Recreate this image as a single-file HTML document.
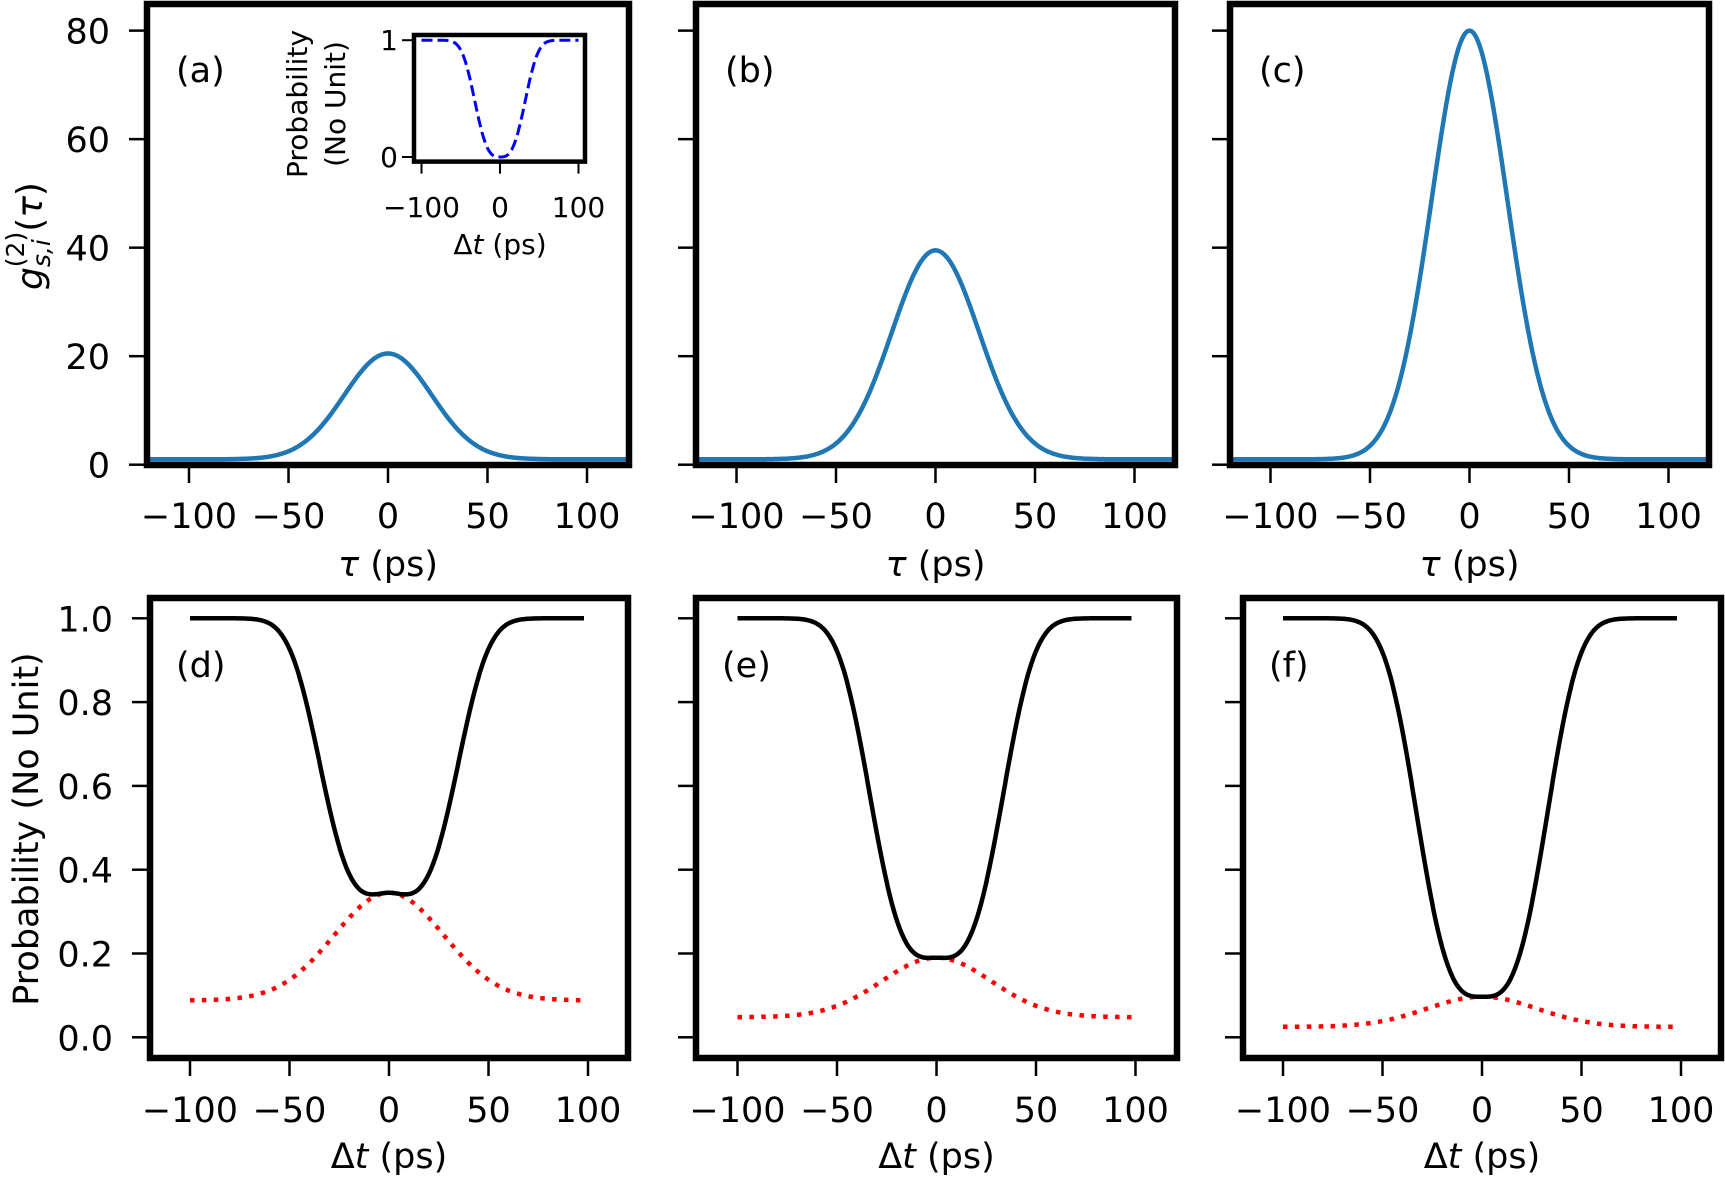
<!DOCTYPE html>
<html><head><meta charset="utf-8">
<style>
html,body{margin:0;padding:0;background:#fff;}
svg{display:block;font-family:"DejaVu Sans","Liberation Sans",sans-serif;}
</style></head>
<body>
<svg id="s" xmlns="http://www.w3.org/2000/svg" width="1725" height="1180" viewBox="0 0 1725 1180"></svg>
<script>
(function(){
const S=document.getElementById('s');let h='';
const K=1.99;
function path(pts,attrs){let d='M'+pts.map(p=>p[0].toFixed(1)+','+p[1].toFixed(1)).join('L');h+='<path d="'+d+'" fill="none" '+attrs+'/>';}
function txt(x,y,s,extra){h+='<text x="'+x+'" y="'+y+'" '+(extra||'')+'>'+s+'</text>';}
function hole(t){return 1-Math.exp(-Math.pow(Math.abs(t)/37,3.0));}
const topRow=[{l:147,r:629,A:19.5,s:22,lab:'(a)'},{l:696,r:1175,A:38.5,s:22,lab:'(b)'},{l:1230,r:1709,A:79,s:19,lab:'(c)'}];
const yT=v=>464.7-5.426*v;
topRow.forEach((p,i)=>{
 const c=(p.l+p.r)/2;
 let pts=[];for(let x=p.l;x<=p.r;x+=1){const t=(x-c)/K;pts.push([x,yT(1+p.A*Math.exp(-t*t/(2*p.s*p.s)))]);}
 path(pts,'stroke="#1f77b4" stroke-width="4.5" stroke-linejoin="round"');
 h+='<rect x="'+p.l+'" y="4" width="'+(p.r-p.l)+'" height="461" fill="none" stroke="#000" stroke-width="6.5"/>';
 [-100,-50,0,50,100].forEach(v=>{const x=c+v*K;h+='<line x1="'+x+'" y1="468" x2="'+x+'" y2="483" stroke="#000" stroke-width="2.5"/>';
  txt(x,528,(v<0?'−':'')+Math.abs(v),'font-size="35" text-anchor="middle"');});
 [0,20,40,60,80].forEach(v=>{const y=yT(v);h+='<line x1="'+(p.l-3)+'" y1="'+y+'" x2="'+(p.l-18)+'" y2="'+y+'" stroke="#000" stroke-width="2.5"/>';
  if(i==0)txt(110,y+13,v,'font-size="35" text-anchor="end"');});
 txt(c,576,'<tspan font-style="italic">τ</tspan> (ps)','font-size="35" text-anchor="middle"');
 txt(p.l+29,82,p.lab,'font-size="35"');
});
h+='<text transform="translate(42,236) rotate(-90)" font-size="36" text-anchor="middle"><tspan font-style="italic">g</tspan><tspan font-size="25" dy="8" font-style="italic">s,i</tspan><tspan font-size="25" dx="-28" dy="-26">(2)</tspan><tspan dy="18">(</tspan><tspan font-style="italic">τ</tspan>)</text>';
{const L=414,R=585,T=35,B=161.6,c=500,k=0.785,yI=v=>157-116.8*v;
 let pts=[];for(let t=-100;t<=100;t+=1){pts.push([c+t*k,yI(hole(t))]);}
 path(pts,'stroke="#0000ff" stroke-width="3" stroke-dasharray="11 5"');
 h+='<rect x="'+L+'" y="'+T+'" width="'+(R-L)+'" height="'+(B-T)+'" fill="none" stroke="#000" stroke-width="4.5"/>';
 [-100,0,100].forEach(v=>{const x=c+v*k;h+='<line x1="'+x+'" y1="'+(B+2)+'" x2="'+x+'" y2="'+(B+12)+'" stroke="#000" stroke-width="2"/>';
  txt(x,217,(v<0?'−':'')+Math.abs(v),'font-size="28" text-anchor="middle"');});
 [0,1].forEach(v=>{const y=yI(v);h+='<line x1="'+(L-2)+'" y1="'+y+'" x2="'+(L-12)+'" y2="'+y+'" stroke="#000" stroke-width="2"/>';
  txt(L-16,y+10,v,'font-size="28" text-anchor="end"');});
 txt(500,254,'Δ<tspan font-style="italic">t</tspan> (ps)','font-size="28" text-anchor="middle"');
 h+='<text transform="translate(307,104) rotate(-90)" font-size="28" text-anchor="middle">Probability</text>';
 h+='<text transform="translate(345,104) rotate(-90)" font-size="28" text-anchor="middle">(No Unit)</text>';
}
const botRow=[{l:150,r:628,b:0.088,hh:0.257,lab:'(d)'},{l:696,r:1177,b:0.048,hh:0.142,lab:'(e)'},{l:1243,r:1721,b:0.025,hh:0.072,lab:'(f)'}];
const yB=v=>1037.3-419*v;
botRow.forEach((p,i)=>{
 const c=(p.l+p.r)/2;
 const red=t=>p.b+p.hh*Math.exp(-t*t/(2*27.5*27.5));
 let pr=[],pb=[];
 for(let t=-100;t<=98;t+=0.5){const r=red(t);pr.push([c+t*K,yB(r)]);pb.push([c+t*K,yB(r+(1-r)*hole(t))]);}
 path(pr,'stroke="#ff0000" stroke-width="4.5" stroke-dasharray="4.5 7.4"');
 path(pb,'stroke="#000" stroke-width="4.5" stroke-linejoin="round"');
 h+='<rect x="'+p.l+'" y="598" width="'+(p.r-p.l)+'" height="460" fill="none" stroke="#000" stroke-width="6.5"/>';
 [-100,-50,0,50,100].forEach(v=>{const x=c+v*K;h+='<line x1="'+x+'" y1="1061" x2="'+x+'" y2="1076" stroke="#000" stroke-width="2.5"/>';
  txt(x,1122,(v<0?'−':'')+Math.abs(v),'font-size="35" text-anchor="middle"');});
 [0,0.2,0.4,0.6,0.8,1.0].forEach(v=>{const y=yB(v);h+='<line x1="'+(p.l-3)+'" y1="'+y+'" x2="'+(p.l-18)+'" y2="'+y+'" stroke="#000" stroke-width="2.5"/>';
  if(i==0)txt(113,y+13,v.toFixed(1),'font-size="35" text-anchor="end"');});
 txt(c,1168,'Δ<tspan font-style="italic">t</tspan> (ps)','font-size="35" text-anchor="middle"');
 txt(p.l+26,677,p.lab,'font-size="35"');
});
h+='<text transform="translate(38,829) rotate(-90)" font-size="35" text-anchor="middle">Probability (No Unit)</text>';
S.innerHTML=h;
})();
</script>
</body></html>
